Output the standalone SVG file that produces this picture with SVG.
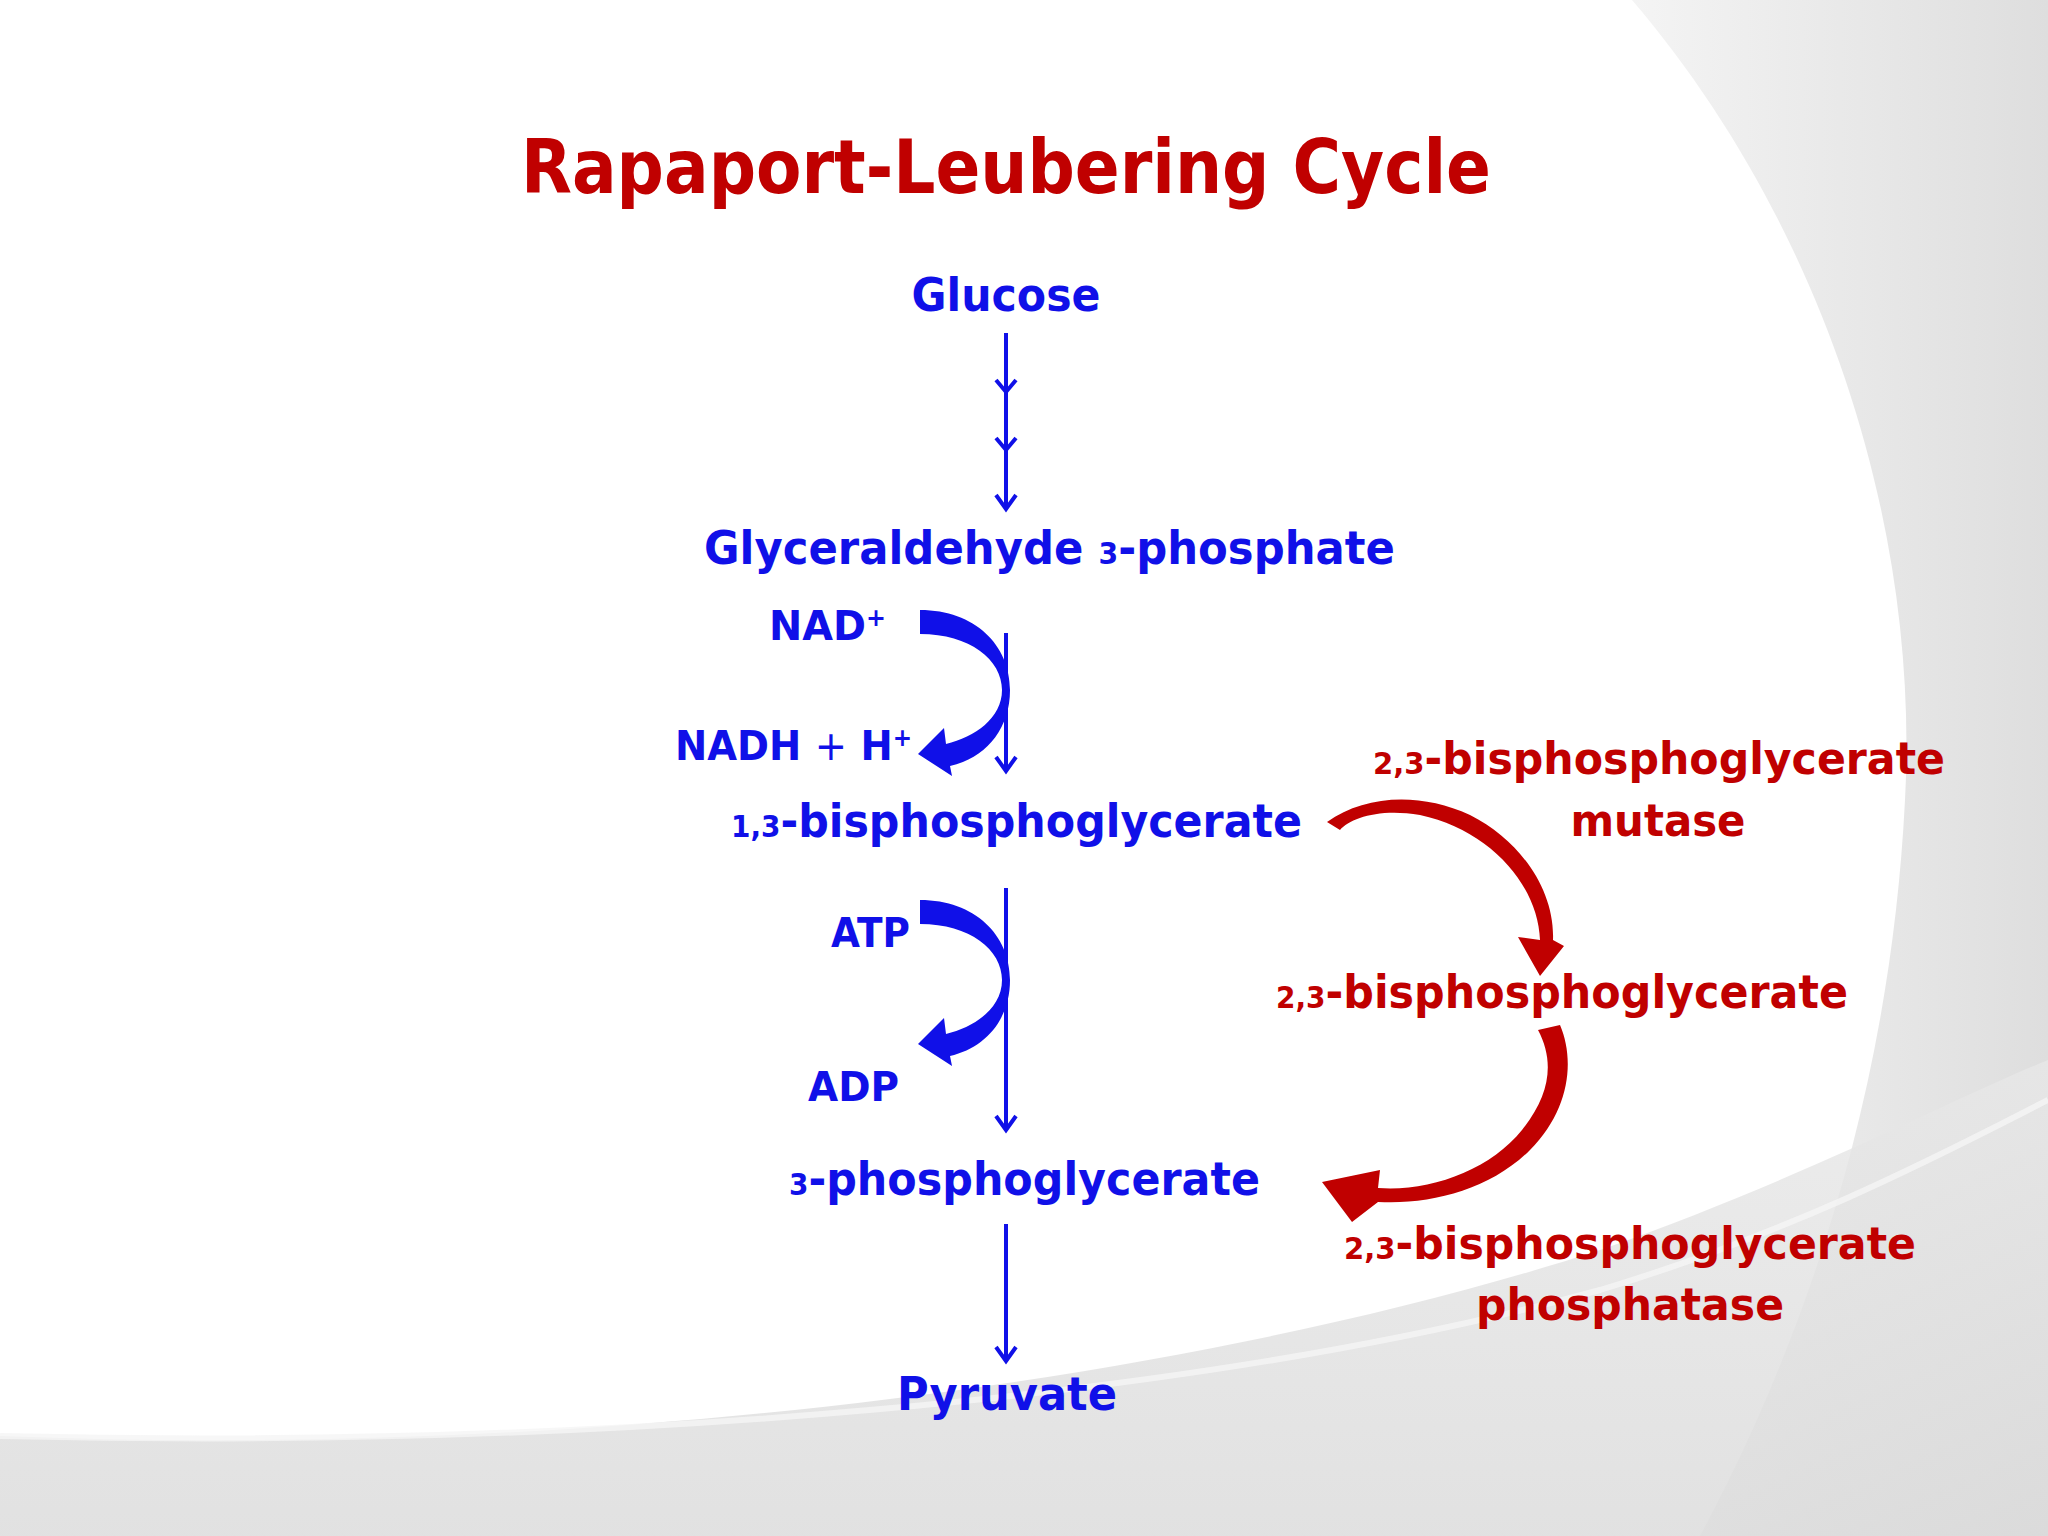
<svg xmlns="http://www.w3.org/2000/svg" width="2048" height="1536" viewBox="0 0 2048 1536">
<defs>
<style>
.t{font-family:"DejaVu Sans","Liberation Sans",sans-serif;font-weight:bold}
.b{fill:#1010e8}
.r{fill:#c00000}
.ln{stroke:#1010e8;stroke-width:4;fill:none}
</style>
<linearGradient id="g1" x1="0" y1="0" x2="1" y2="0"><stop offset="0" stop-color="#f4f4f4"/><stop offset="1" stop-color="#dedede"/></linearGradient>
<linearGradient id="g2" x1="0" y1="0" x2="0" y2="1"><stop offset="0" stop-color="#e8e8e8"/><stop offset="1" stop-color="#dadada"/></linearGradient>
<marker id="ah" markerWidth="24" markerHeight="24" refX="20" refY="12" orient="auto" markerUnits="userSpaceOnUse" viewBox="0 0 24 24"><polyline points="6,2 20,12 6,22" fill="none" stroke="#1010e8" stroke-width="4"/></marker>
</defs>
<rect width="2048" height="1536" fill="#ffffff"/>
<g id="background">
<path d="M1632,0 C1820,220 1920,520 1905,800 C1890,1100 1800,1350 1700,1536 L2048,1536 L2048,0 Z" fill="url(#g1)"/>
<path d="M0,1436 C600,1460 1200,1380 1600,1250 C1800,1180 1950,1100 2048,1060 L2048,1536 L0,1536 Z" fill="url(#g2)" opacity="0.8"/>
<path d="M0,1436 C600,1450 1200,1400 1600,1290 C1800,1230 1950,1150 2048,1100" fill="none" stroke="#f5f5f5" stroke-width="6" opacity="0.8"/>
</g>
<g id="title"><text class="t r" x="1006" y="193" font-size="74" text-anchor="middle" textLength="970" lengthAdjust="spacingAndGlyphs">Rapaport-Leubering Cycle</text></g>
<g id="glucose"><text class="t b" x="1006" y="311" font-size="46" text-anchor="middle" textLength="189" lengthAdjust="spacingAndGlyphs">Glucose</text></g>
<g id="g3p"><text class="t b" x="704" y="564" font-size="46" textLength="691" lengthAdjust="spacingAndGlyphs">Glyceraldehyde <tspan font-size="30">3</tspan>-phosphate</text></g>
<g id="nad"><text class="t b" x="769" y="640" font-size="40" textLength="117" lengthAdjust="spacingAndGlyphs">NAD<tspan font-size="24" dy="-14">+</tspan></text></g>
<g id="nadh"><text class="t b" x="675" y="760" font-size="40" textLength="237" lengthAdjust="spacingAndGlyphs">NADH <tspan font-weight="normal">+</tspan> H<tspan font-size="24" dy="-14">+</tspan></text></g>
<g id="bpg13"><text class="t b" x="731" y="837" font-size="46" textLength="571" lengthAdjust="spacingAndGlyphs"><tspan font-size="30">1,3</tspan>-bisphosphoglycerate</text></g>
<g id="atp"><text class="t b" x="831" y="947" font-size="40" textLength="79" lengthAdjust="spacingAndGlyphs">ATP</text></g>
<g id="adp"><text class="t b" x="808" y="1101" font-size="40" textLength="91" lengthAdjust="spacingAndGlyphs">ADP</text></g>
<g id="pg3"><text class="t b" x="789" y="1195" font-size="46" textLength="471" lengthAdjust="spacingAndGlyphs"><tspan font-size="30">3</tspan>-phosphoglycerate</text></g>
<g id="pyruvate"><text class="t b" x="1007" y="1410" font-size="46" text-anchor="middle" textLength="220" lengthAdjust="spacingAndGlyphs">Pyruvate</text></g>
<g id="mutase"><text class="t r" x="1373" y="774" font-size="44" textLength="572" lengthAdjust="spacingAndGlyphs"><tspan font-size="30">2,3</tspan>-bisphosphoglycerate</text><text class="t r" x="1658" y="836" font-size="44" text-anchor="middle" textLength="175" lengthAdjust="spacingAndGlyphs">mutase</text></g>
<g id="bpg23"><text class="t r" x="1276" y="1008" font-size="46" textLength="572" lengthAdjust="spacingAndGlyphs"><tspan font-size="30">2,3</tspan>-bisphosphoglycerate</text></g>
<g id="phosphatase"><text class="t r" x="1344" y="1259" font-size="44" textLength="572" lengthAdjust="spacingAndGlyphs"><tspan font-size="30">2,3</tspan>-bisphosphoglycerate</text><text class="t r" x="1630" y="1320" font-size="44" text-anchor="middle" textLength="308" lengthAdjust="spacingAndGlyphs">phosphatase</text></g>
<g id="connectors">
<line class="ln" x1="1006" y1="333" x2="1006" y2="509" marker-end="url(#ah)"/>
<polyline class="ln" points="996,380 1006,392 1016,380"/>
<polyline class="ln" points="996,438 1006,450 1016,438"/>
<line class="ln" x1="1006" y1="633" x2="1006" y2="771" marker-end="url(#ah)"/>
<line class="ln" x1="1006" y1="888" x2="1006" y2="1130" marker-end="url(#ah)"/>
<line class="ln" x1="1006" y1="1224" x2="1006" y2="1361" marker-end="url(#ah)"/>
<path class="b" d="M920,610 C975,610 1010,645 1010,690 C1010,730 985,758 950,766 L952,776 L918,754 L944,728 L946,744 C975,737 1002,718 1002,690 C1002,660 970,634 920,634 Z"/>
<path class="b" transform="translate(0,290)" d="M920,610 C975,610 1010,645 1010,690 C1010,730 985,758 950,766 L952,776 L918,754 L944,728 L946,744 C975,737 1002,718 1002,690 C1002,660 970,634 920,634 Z"/>
<path class="r" d="M1327,822 C1365,795 1420,792 1470,815 C1520,840 1555,890 1553,940 L1564,946 L1540,976 L1518,937 L1540,940 C1538,885 1490,830 1420,815 C1380,808 1350,818 1340,830 Z"/>
<path class="r" d="M1538,1030 L1560,1025 C1575,1060 1570,1110 1530,1150 C1490,1190 1430,1205 1378,1202 L1352,1222 L1322,1182 L1380,1170 L1378,1188 C1430,1192 1490,1170 1522,1130 C1550,1095 1555,1062 1538,1030 Z"/>
</g>
</svg>
